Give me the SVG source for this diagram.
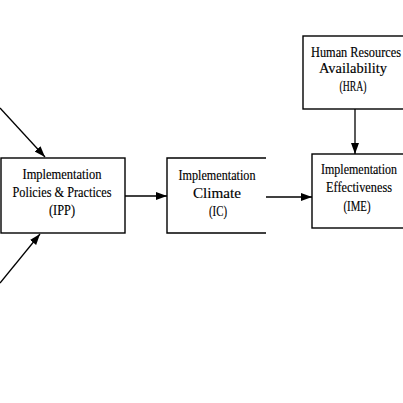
<svg xmlns="http://www.w3.org/2000/svg" width="403" height="403" viewBox="0 0 403 403">
<style>
.box{fill:#fff;stroke:#000;stroke-width:1.4}
.lbl{font-family:"Liberation Serif","Times New Roman",serif;font-size:15px;fill:#000;stroke:#000;stroke-width:0.15;text-anchor:middle}
.conn{stroke:#000;stroke-width:1.3;fill:none}
</style>
<defs>
<marker id="ah" markerUnits="userSpaceOnUse" markerWidth="12" markerHeight="10" refX="11" refY="4" orient="auto">
<path d="M0,0 L11,4 L0,8 Z" fill="#000"/>
</marker>
</defs>
<rect width="403" height="403" fill="#fff"/>
<g id="connectors">
<line class="conn" x1="0" y1="108" x2="45" y2="157" marker-end="url(#ah)"/>
<line class="conn" x1="0" y1="283" x2="40" y2="234" marker-end="url(#ah)"/>
<line class="conn" x1="125" y1="196" x2="167" y2="196" marker-end="url(#ah)"/>
<line class="conn" x1="266" y1="197" x2="312" y2="197" marker-end="url(#ah)"/>
<line class="conn" x1="355" y1="109" x2="355" y2="154" marker-end="url(#ah)"/>
</g>
<g id="IPP">
<rect class="box" x="1" y="158" width="124" height="75"/>
<text class="lbl" x="62" y="179" textLength="79" lengthAdjust="spacingAndGlyphs">Implementation</text>
<text class="lbl" x="62" y="197" textLength="99" lengthAdjust="spacingAndGlyphs">Policies &amp; Practices</text>
<text class="lbl" x="62" y="215" textLength="26" lengthAdjust="spacingAndGlyphs">(IPP)</text>
</g>
<g id="IC">
<path class="box" style="fill:none" d="M266,158 H167 V233 H266"/>
<text class="lbl" x="217" y="180" textLength="77" lengthAdjust="spacingAndGlyphs">Implementation</text>
<text class="lbl" x="217" y="198" textLength="48" lengthAdjust="spacingAndGlyphs">Climate</text>
<text class="lbl" x="218" y="216" textLength="18" lengthAdjust="spacingAndGlyphs">(IC)</text>
</g>
<g id="IME">
<rect class="box" x="312" y="154" width="92" height="74"/>
<text class="lbl" x="359" y="174" textLength="76" lengthAdjust="spacingAndGlyphs">Implementation</text>
<text class="lbl" x="359" y="192" textLength="66" lengthAdjust="spacingAndGlyphs">Effectiveness</text>
<text class="lbl" x="357" y="211" textLength="27" lengthAdjust="spacingAndGlyphs">(IME)</text>
</g>
<g id="HRA">
<rect class="box" x="303" y="36" width="101" height="73"/>
<text class="lbl" x="356" y="57" textLength="90" lengthAdjust="spacingAndGlyphs">Human Resources</text>
<text class="lbl" x="353" y="73" textLength="68" lengthAdjust="spacingAndGlyphs">Availability</text>
<text class="lbl" x="353" y="91" textLength="27" lengthAdjust="spacingAndGlyphs">(HRA)</text>
</g>
</svg>
